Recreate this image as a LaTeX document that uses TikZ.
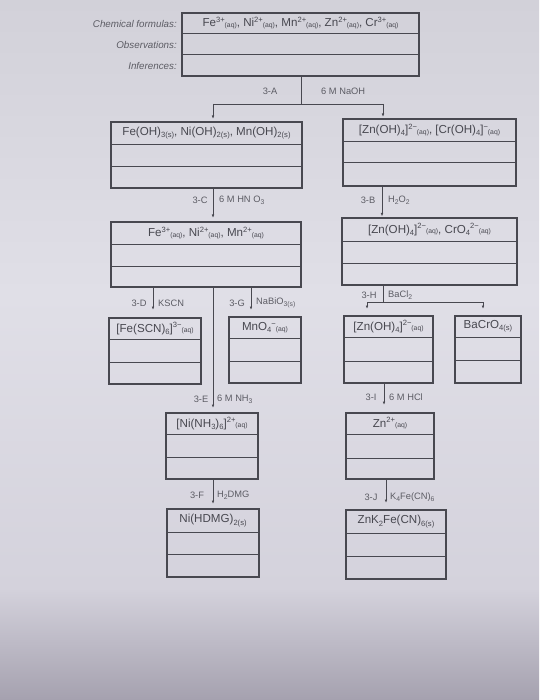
\documentclass[tikz,border=0pt]{standalone}
\usepackage{fontspec}
\setmainfont{Liberation Sans}
\usetikzlibrary{arrows.meta}
\definecolor{ink}{RGB}{72,72,80}
\definecolor{lab}{RGB}{92,92,100}
\definecolor{ptop}{RGB}{210,209,217}
\definecolor{pmid}{RGB}{224,223,231}
\definecolor{plow}{RGB}{212,210,220}
\definecolor{pbot}{RGB}{165,161,175}
\pgfdeclareverticalshading{paper}{100bp}{color(0bp)=(pbot); color(25bp)=(pbot); color(33bp)=(plow); color(54bp)=(pmid); color(75bp)=(ptop); color(100bp)=(ptop)}
\newcommand\chph[1]{\raisebox{-0.8pt}{\fontsize{6.8}{7}\selectfont #1}}
\newcommand\chsb[1]{\raisebox{-2.4pt}{\fontsize{7.6}{8}\selectfont #1}}
\newcommand\chsp[1]{\raisebox{4.2pt}{\fontsize{7.6}{8}\selectfont #1}}
\newcommand\lsb[1]{\raisebox{-2pt}{\fontsize{6.8}{7}\selectfont #1}}
\tikzset{
  boxn/.style={draw=ink, line width=1.1pt, inner sep=0pt, outer sep=0pt, rectangle},
  rowline/.style={draw=ink, line width=0.9pt},
  chtext/.style={text=ink, font=\fontsize{11.6}{13}\selectfont, inner sep=0pt},
  lbl/.style={text=lab, font=\fontsize{9.3}{10}\selectfont, inner sep=0pt},
  side/.style={text=lab, font=\fontsize{9.8}{11}\selectfont\itshape, inner sep=0pt, anchor=east},
  conn/.style={draw=ink, line width=0.8pt},
  arr/.style={draw=ink, line width=0.8pt, -{Latex[length=3.5pt,width=2.6pt]}},
}
% name, x1, y1, x2, y2, row1, row2, text
\newcommand\chbox[8]{%
  \node[boxn, minimum width={(#4-#2)*1pt}, minimum height={(#5-#3)*1pt}] (#1) at ({(#2+#4)/2},{(#3+#5)/2}) {};
  \draw[rowline] (#2,#6) -- (#4,#6);
  \draw[rowline] (#2,#7) -- (#4,#7);
  \node[chtext] (#1t) at ({(#2+#4)/2},{(#3+#6)/2}) {#8};
}
\begin{document}
\begin{tikzpicture}[x=1pt,y=-1pt]
\shade[shading=paper] (0,0) rectangle (539,700);
\useasboundingbox (0,0) rectangle (539,700);

% top box
\chbox{top}{182}{13}{419}{76}{33}{54}{Fe\chsp{3+}\chph{(aq)}, Ni\chsp{2+}\chph{(aq)}, Mn\chsp{2+}\chph{(aq)}, Zn\chsp{2+}\chph{(aq)}, Cr\chsp{3+}\chph{(aq)}}
\node[side] (sl1) at (177,24) {Chemical formulas:};
\node[side] (sl2) at (177,45) {Observations:};
\node[side] (sl3) at (177,66) {Inferences:};

\chbox{b1}{111}{122}{302}{188}{144}{166}{Fe(OH)\chsb{3(s)}, Ni(OH)\chsb{2(s)}, Mn(OH)\chsb{2(s)}}
\chbox{b2}{343}{119}{516}{186}{141}{162}{[Zn(OH)\chsb{4}]\chsp{2−}\chph{(aq)}, [Cr(OH)\chsb{4}]\chsp{−}\chph{(aq)}}
\chbox{b3}{111}{222}{301}{287}{244}{266}{Fe\chsp{3+}\chph{(aq)}, Ni\chsp{2+}\chph{(aq)}, Mn\chsp{2+}\chph{(aq)}}
\chbox{b4}{342}{218}{517}{285}{241}{263}{[Zn(OH)\chsb{4}]\chsp{2−}\chph{(aq)}, CrO\chsb{4}\chsp{2−}\chph{(aq)}}
\chbox{b5}{109}{318}{201}{384}{339}{362}{[Fe(SCN)\chsb{6}]\chsp{3−}\chph{(aq)}}
\chbox{b6}{229}{317}{301}{383}{338}{361}{MnO\chsb{4}\chsp{−}\chph{(aq)}}
\chbox{b7}{344}{316}{433}{383}{337}{361}{[Zn(OH)\chsb{4}]\chsp{2−}\chph{(aq)}}
\chbox{b8}{455}{316}{521}{383}{337}{360}{BaCrO\chsb{4(s)}}
\chbox{b9}{166}{413}{258}{479}{434}{457}{[Ni(NH\chsb{3})\chsb{6}]\chsp{2+}\chph{(aq)}}
\chbox{b10}{167}{509}{259}{577}{532}{554}{Ni(HDMG)\chsb{2(s)}}
\chbox{b11}{346}{413}{434}{479}{434}{458}{Zn\chsp{2+}\chph{(aq)}}
\chbox{b12}{346}{510}{446}{579}{533}{556}{ZnK\chsb{2}Fe(CN)\chsb{6(s)}}

% 3-A
\coordinate (jA) at (301,104);
\coordinate (jAl) at (213,104);
\coordinate (jAr) at (383,104);
\draw[conn] (top.south -| jA) -- (jA);
\draw[conn] (jAl) -- (jAr);
\draw[arr, shorten >=3pt] (jAl) -- (jAl |- b1.north);
\draw[arr, shorten >=2pt] (jAr) -- (jAr |- b2.north);
\node[lbl] (lA) at (270,91) {3-A};
\node[lbl, anchor=west] (rA) at (321,91) {6 M NaOH};

% 3-C
\coordinate (xC) at (213,200);
\draw[arr, shorten >=4pt] (b1.south -| xC) -- (b3.north -| xC);
\node[lbl] (lC) at (200,200) {3-C};
\node[lbl, anchor=west] (rC) at (219,200) {6 M HN O\lsb{3}};

% 3-B
\coordinate (xB) at (382,200);
\draw[arr, shorten >=1.5pt] (b2.south -| xB) -- (b4.north -| xB);
\node[lbl] (lB) at (368,200) {3-B};
\node[lbl, anchor=west] (rB) at (388,200) {H\lsb{2}O\lsb{2}};

% 3-D
\coordinate (xD) at (153,303);
\draw[arr, shorten >=8pt] (b3.south -| xD) -- (b5.north -| xD);
\node[lbl] (lD) at (139,303) {3-D};
\node[lbl, anchor=west] (rD) at (158,303) {KSCN};

% 3-G
\coordinate (xG) at (251,303);
\draw[arr, shorten >=7pt] (b3.south -| xG) -- (b6.north -| xG);
\node[lbl] (lG) at (237,303) {3-G};
\node[lbl, anchor=west] (rG) at (256,303) {NaBiO\lsb{3(s)}};

% 3-E
\coordinate (xE) at (213,399);
\draw[arr, shorten >=5pt] (b3.south -| xE) -- (b9.north -| xE);
\node[lbl] (lE) at (201,399) {3-E};
\node[lbl, anchor=west] (rE) at (217,399) {6 M NH\lsb{3}};

% 3-F
\coordinate (xF) at (213,495);
\draw[arr, shorten >=5pt] (b9.south -| xF) -- (b10.north -| xF);
\node[lbl] (lF) at (197,495) {3-F};
\node[lbl, anchor=west] (rF) at (217,495) {H\lsb{2}DMG};

% 3-H
\coordinate (jH) at (383,302);
\coordinate (jHl) at (367,302);
\coordinate (jHr) at (483,302);
\draw[conn] (b4.south -| jH) -- (jH);
\draw[conn] (jHl) -- (jHr);
\draw[arr, shorten >=7pt] (jHl) -- (jHl |- b7.north);
\draw[arr, shorten >=7pt] (jHr) -- (jHr |- b8.north);
\node[lbl] (lH) at (369,295) {3-H};
\node[lbl, anchor=west] (rH) at (388,295) {BaCl\lsb{2}};

% 3-I
\coordinate (xI) at (384,397);
\draw[arr, shorten >=8pt] (b7.south -| xI) -- (b11.north -| xI);
\node[lbl] (lI) at (371,397) {3-I};
\node[lbl, anchor=west] (rI) at (389,397) {6 M HCl};

% 3-J
\coordinate (xJ) at (386,497);
\draw[arr, shorten >=7pt] (b11.south -| xJ) -- (b12.north -| xJ);
\node[lbl] (lJ) at (371,497) {3-J};
\node[lbl, anchor=west] (rJ) at (390,497) {K\lsb{4}Fe(CN)\lsb{6}};
\end{tikzpicture}
\end{document}
